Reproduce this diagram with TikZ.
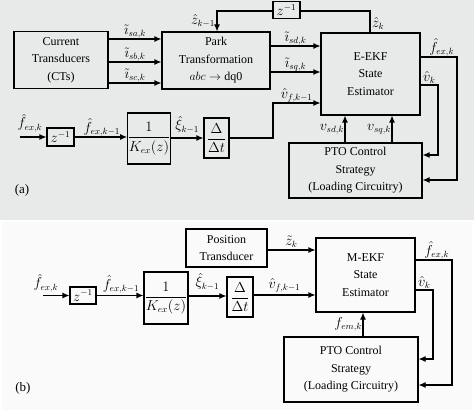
\documentclass[tikz,border=0pt]{standalone}
\usepackage{amsmath}
\usepackage{fontspec}
\setmainfont{Liberation Serif}
\usetikzlibrary{arrows.meta}
\begin{document}
\begin{tikzpicture}[x=1pt,y=-1pt,
  blk/.style={draw=black,line width=1.1pt,fill=none,align=center,inner sep=0pt,
    font=\fontsize{12}{17.5}\selectfont},
  mblk/.style={blk,font=\fontsize{13.5}{15}\selectfont},
  sig/.style={line width=1.1pt,-{Latex[length=7pt,width=6pt]}},
  ln/.style={line width=1.1pt},
  lab/.style={font=\fontsize{13.5}{15}\selectfont,inner sep=0.5pt}]
\useasboundingbox (0,0) rectangle (474,414);
\fill[fill={rgb,255:red,232;green,234;blue,233}] (0,0) rectangle (474,220);
\fill[fill={rgb,255:red,250;green,250;blue,250}] (2,222) rectangle (472,410);
% ---------- panel (a)
\node[blk,minimum width=94pt,minimum height=57pt] (ct) at (61,60) {Current\\Transducers\\(CTs)};
\node[blk,minimum width=108pt,minimum height=57pt] (park) at (216,60.5) {Park\\Transformation\\$abc\rightarrow\mathrm{dq0}$};
\node[mblk,minimum width=27pt,minimum height=17pt] (zA) at (286.5,10) {$z^{-1}$};
\node[blk,minimum width=99pt,minimum height=82pt] (ekfA) at (370.5,74) {E-EKF\\State\\Estimator};
\node[blk,minimum width=133pt,minimum height=55pt] (ptoA) at (355.5,170.5) {PTO Control\\Strategy\\(Loading Circuitry)};
\node[mblk,minimum width=27pt,minimum height=18pt] (zA2) at (60.5,137) {$z^{-1}$};
\node[mblk,minimum width=42pt,minimum height=51pt] (kA) at (149,138.5) {$\dfrac{1}{K_{ex}(z)}$};
\node[mblk,minimum width=25pt,minimum height=40pt] (dA) at (216.5,138) {$\dfrac{\Delta}{\Delta t}$};
\coordinate (inA) at (20,137);
\node[lab,font=\fontsize{13}{15}\selectfont] (labA) at (22,190) {(a)};

\draw[sig] (ct.east|-0,39) -- node[lab,above]{$\tilde{\imath}_{sa,k}$} (park.west|-0,39);
\draw[sig] (ct.east|-0,62) -- node[lab,above]{$\tilde{\imath}_{sb,k}$} (park.west|-0,62);
\draw[sig] (ct.east|-0,83) -- node[lab,above]{$\tilde{\imath}_{sc,k}$} (park.west|-0,83);
\draw[sig] (park.east|-0,46) -- node[lab,above]{$\tilde{\imath}_{sd,k}$} (ekfA.west|-0,46);
\draw[sig] (park.east|-0,72) -- node[lab,above]{$\tilde{\imath}_{sq,k}$} (ekfA.west|-0,72);
\draw[ln] (ekfA.north-|370,0) -- node[lab,right,pos=0.4,xshift=1pt]{$\hat{z}_k$} (370,11) -- (zA.east|-0,11);
\draw[sig] (zA.west|-0,11) -- (217,11) -- node[lab,left,pos=0.5,xshift=-1pt]{$\hat{z}_{k-1}$} (park.north-|217,0);
\draw[sig] (inA) -- (zA2.west);
\node[lab] (fA) at (30,123) {$\hat{f}_{ex,k}$};
\draw[sig] (zA2.east) -- node[lab,above,xshift=1pt]{$\hat{f}_{ex,k-1}$} (kA.west|-zA2.east);
\draw[sig] (kA.east|-0,138) -- node[lab,above,yshift=4pt]{$\hat{\xi}_{k-1}$} (dA.west|-0,138);
\draw[sig] (dA.east|-0,138) -- (273,138) -- (273,103) -- node[lab,above]{$\hat{v}_{f,k-1}$} (ekfA.west|-0,103);
\draw[sig] (ptoA.north-|345,0) -- node[lab,left]{$v_{sd,k}$} (ekfA.south-|345,0);
\draw[sig] (ptoA.north-|392,0) -- node[lab,left]{$v_{sq,k}$} (ekfA.south-|392,0);
\draw[sig] (ekfA.east|-0,57) -- node[lab,above,xshift=3pt]{$\hat{f}_{ex,k}$} (457,57) -- (457,180) -- (ptoA.east|-0,180);
\draw[sig] (ekfA.east|-0,85) -- node[lab,above]{$\hat{v}_k$} (438,85) -- (438,155) -- (ptoA.east|-0,155);
% ---------- panel (b)
\node[blk,minimum width=81pt,minimum height=38pt] (pos) at (226.5,248) {Position\\Transducer};
\node[blk,minimum width=99pt,minimum height=74pt] (ekfB) at (365.5,275) {M-EKF\\State\\Estimator};
\node[blk,minimum width=134pt,minimum height=65pt] (ptoB) at (351,369.5) {PTO Control\\Strategy\\(Loading Circuitry)};
\node[mblk,minimum width=26pt,minimum height=17pt] (zB) at (83,295.5) {$z^{-1}$};
\node[mblk,minimum width=44pt,minimum height=52pt] (kB) at (166,298) {$\dfrac{1}{K_{ex}(z)}$};
\node[mblk,minimum width=26pt,minimum height=40pt] (dB) at (240,297) {$\dfrac{\Delta}{\Delta t}$};
\coordinate (inB) at (43,295.5);
\node[lab,font=\fontsize{13}{15}\selectfont] (labB) at (23,388) {(b)};

\draw[sig] (pos.east|-0,250) -- node[lab,above,yshift=1pt]{$\tilde{z}_k$} (ekfB.west|-0,250);
\draw[sig] (inB) -- (zB.west);
\node[lab] (fB) at (46,283) {$\hat{f}_{ex,k}$};
\draw[sig] (zB.east) -- node[lab,above,yshift=1pt,xshift=1pt]{$\hat{f}_{ex,k-1}$} (kB.west|-zB.east);
\draw[sig] (kB.east|-0,296) -- node[lab,above,yshift=5pt]{$\hat{\xi}_{k-1}$} (dB.west|-0,296);
\draw[sig] (dB.east|-0,295) -- node[lab,above,yshift=2pt]{$\hat{v}_{f,k-1}$} (ekfB.west|-0,295);
\draw[sig] (ptoB.north-|363,0) -- node[lab,left]{$f_{em,k}$} (ekfB.south-|363,0);
\draw[sig] (ekfB.east|-0,260) -- node[lab,above,xshift=3pt]{$\hat{f}_{ex,k}$} (452,260) -- (452,385) -- (ptoB.east|-0,385);
\draw[sig] (ekfB.east|-0,290) -- node[lab,above]{$\hat{v}_k$} (433,290) -- (433,359) -- (ptoB.east|-0,359);
\end{tikzpicture}
\end{document}
